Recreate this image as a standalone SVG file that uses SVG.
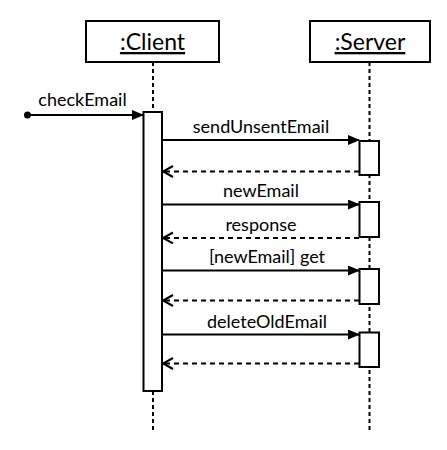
<svg xmlns="http://www.w3.org/2000/svg" width="447" height="450" viewBox="0 0 447 450">
<style>
.box{fill:#fff;stroke:#000;stroke-width:2}
.act{fill:#fff;stroke:#000;stroke-width:2}
.life{stroke:#000;stroke-width:2;stroke-dasharray:4 3;fill:none}
.msg{stroke:#000;stroke-width:2;fill:none}
.ret{stroke:#000;stroke-width:2;stroke-dasharray:5 4;fill:none}
text{font-family:Lato,"Open Sans","Liberation Sans",sans-serif;fill:#000}
.t{font-size:18px;text-anchor:middle}
.h{font-size:23px;text-anchor:middle;text-decoration:underline}
</style>
<defs>
<marker id="fill" markerWidth="12" markerHeight="10" refX="11" refY="5" orient="auto" markerUnits="userSpaceOnUse"><path d="M0,0 L12,5 L0,10 Z" fill="#000"/></marker>
<marker id="open" markerWidth="13" markerHeight="13" refX="11" refY="6" orient="auto" markerUnits="userSpaceOnUse"><path d="M1,0.5 L11,6 L1,11.5" fill="none" stroke="#000" stroke-width="2"/></marker>
</defs>
<g id="client">
<rect class="box" x="86" y="21" width="133" height="41"/>
<text class="h" x="152.5" y="50">:Client</text>
<line class="life" x1="153" y1="62" x2="153" y2="112"/>
<line class="life" x1="153" y1="391" x2="153" y2="431"/>
<rect class="act" x="143.5" y="112" width="18.5" height="279"/>
</g>
<g id="server">
<rect class="box" x="310" y="21" width="120" height="41"/>
<text class="h" x="370" y="50">:Server</text>
<line class="life" x1="369.5" y1="62" x2="369.5" y2="431"/>
<rect class="act" x="359.5" y="141" width="19.5" height="34"/>
<rect class="act" x="359.5" y="202" width="19.5" height="35"/>
<rect class="act" x="359.5" y="269" width="19.5" height="35"/>
<rect class="act" x="359.5" y="332.5" width="19.5" height="34.5"/>
</g>
<g id="connectors">
<circle cx="27.5" cy="115" r="3.5" fill="#000"/>
<line class="msg" x1="27.5" y1="115" x2="143" y2="115" marker-end="url(#fill)"/>
<line class="msg" x1="162" y1="140" x2="359" y2="140" marker-end="url(#fill)"/>
<line class="ret" x1="359" y1="171.5" x2="163" y2="171.5" marker-end="url(#open)"/>
<line class="msg" x1="162" y1="204.5" x2="359" y2="204.5" marker-end="url(#fill)"/>
<line class="ret" x1="359" y1="238" x2="163" y2="238" marker-end="url(#open)"/>
<line class="msg" x1="162" y1="270.5" x2="359" y2="270.5" marker-end="url(#fill)"/>
<line class="ret" x1="359" y1="300.5" x2="163" y2="300.5" marker-end="url(#open)"/>
<line class="msg" x1="162" y1="334.5" x2="359" y2="334.5" marker-end="url(#fill)"/>
<line class="ret" x1="359" y1="363.5" x2="163" y2="363.5" marker-end="url(#open)"/>
</g>
<g id="labels">
<text class="t" x="82.5" y="106">checkEmail</text>
<text class="t" x="261" y="132.5">sendUnsentEmail</text>
<text class="t" x="261" y="196.5">newEmail</text>
<text class="t" x="261" y="230.5">response</text>
<text class="t" x="267" y="262.5">[newEmail] get</text>
<text class="t" x="267" y="328">deleteOldEmail</text>
</g>
</svg>
